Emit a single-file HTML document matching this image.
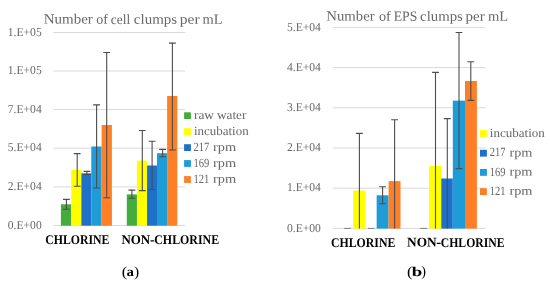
<!DOCTYPE html>
<html><head><meta charset="utf-8"><title>Figure</title>
<style>html,body{margin:0;padding:0;background:#fff}svg{display:block}text{font-family:"Liberation Serif",serif;text-rendering:geometricPrecision}</style></head><body>
<svg width="550" height="284" viewBox="0 0 550 284">
<rect width="550" height="284" fill="#fff"/>
<line x1="53.4" y1="32.5" x2="185.2" y2="32.5" stroke="#D9D9D9" stroke-width="1"/>
<line x1="53.4" y1="71.0" x2="185.2" y2="71.0" stroke="#D9D9D9" stroke-width="1"/>
<line x1="53.4" y1="109.6" x2="185.2" y2="109.6" stroke="#D9D9D9" stroke-width="1"/>
<line x1="53.4" y1="148.2" x2="185.2" y2="148.2" stroke="#D9D9D9" stroke-width="1"/>
<line x1="53.4" y1="186.9" x2="185.2" y2="186.9" stroke="#D9D9D9" stroke-width="1"/>
<line x1="53.4" y1="225.5" x2="185.2" y2="225.5" stroke="#D9D9D9" stroke-width="1"/>
<rect x="60.9" y="204.3" width="10.3" height="21.4" fill="#44AC3C"/>
<rect x="71.2" y="169.7" width="10.15" height="56.0" fill="#FFFF00"/>
<rect x="81.35" y="173.3" width="9.95" height="52.4" fill="#1F70C8"/>
<rect x="91.3" y="146.5" width="10.3" height="79.2" fill="#1E9CD8"/>
<rect x="101.6" y="125.0" width="10.3" height="100.7" fill="#FF7F27"/>
<rect x="126.8" y="194.4" width="10.15" height="31.3" fill="#44AC3C"/>
<rect x="136.95" y="160.6" width="10.1" height="65.1" fill="#FFFF00"/>
<rect x="147.05" y="165.5" width="9.95" height="60.2" fill="#1F70C8"/>
<rect x="157.0" y="153.2" width="10.1" height="72.5" fill="#1E9CD8"/>
<rect x="167.1" y="96.0" width="10.2" height="129.7" fill="#FF7F27"/>
<path d="M63.0 199.4H69.8M66.4 199.4V209.3M63.0 209.3H69.8" stroke="#4d4d4d" stroke-width="1.1" fill="none"/>
<path d="M73.8 153.6H80.6M77.2 153.6V186.2M73.8 186.2H80.6" stroke="#4d4d4d" stroke-width="1.1" fill="none"/>
<path d="M83.5 171.4H90.3M86.9 171.4V174.5M83.5 174.5H90.3" stroke="#4d4d4d" stroke-width="1.1" fill="none"/>
<path d="M93.2 104.9H100.0M96.6 104.9V188.0M93.2 188.0H100.0" stroke="#4d4d4d" stroke-width="1.1" fill="none"/>
<path d="M103.3 52.5H110.1M106.7 52.5V197.7M103.3 197.7H110.1" stroke="#4d4d4d" stroke-width="1.1" fill="none"/>
<path d="M128.5 190.1H135.3M131.9 190.1V198.2M128.5 198.2H135.3" stroke="#4d4d4d" stroke-width="1.1" fill="none"/>
<path d="M138.9 130.5H145.7M142.3 130.5V190.6M138.9 190.6H145.7" stroke="#4d4d4d" stroke-width="1.1" fill="none"/>
<path d="M148.7 141.2H155.5M152.1 141.2V189.5M148.7 189.5H155.5" stroke="#4d4d4d" stroke-width="1.1" fill="none"/>
<path d="M159.2 149.4H166.0M162.6 149.4V156.8M159.2 156.8H166.0" stroke="#4d4d4d" stroke-width="1.1" fill="none"/>
<path d="M169.0 43.1H175.8M172.4 43.1V150.0M169.0 150.0H175.8" stroke="#4d4d4d" stroke-width="1.1" fill="none"/>
<text transform="matrix(1,0.0005,0,1,7.8,35.8)" font-size="12" fill="#686868" textLength="33.9" lengthAdjust="spacingAndGlyphs">1.E+05</text>
<text transform="matrix(1,0.0005,0,1,7.8,74.2)" font-size="12" fill="#686868" textLength="33.9" lengthAdjust="spacingAndGlyphs">1.E+05</text>
<text transform="matrix(1,0.0005,0,1,7.8,112.8)" font-size="12" fill="#686868" textLength="33.9" lengthAdjust="spacingAndGlyphs">7.E+04</text>
<text transform="matrix(1,0.0005,0,1,7.8,151.4)" font-size="12" fill="#686868" textLength="33.9" lengthAdjust="spacingAndGlyphs">5.E+04</text>
<text transform="matrix(1,0.0005,0,1,7.8,190.2)" font-size="12" fill="#686868" textLength="33.9" lengthAdjust="spacingAndGlyphs">2.E+04</text>
<text transform="matrix(1,0.0005,0,1,7.8,228.8)" font-size="12" fill="#686868" textLength="33.9" lengthAdjust="spacingAndGlyphs">0.E+00</text>
<text transform="matrix(1,0.0005,0,1,43.67,23.6)" font-size="14" fill="#686868"><tspan x="0.0" textLength="49.16" lengthAdjust="spacingAndGlyphs">Number</tspan> <tspan x="52.55" textLength="11.7" lengthAdjust="spacingAndGlyphs">of</tspan> <tspan x="67.17" textLength="19.35" lengthAdjust="spacingAndGlyphs">cell</tspan> <tspan x="90.21" textLength="43.24" lengthAdjust="spacingAndGlyphs">clumps</tspan> <tspan x="136.15" textLength="19.92" lengthAdjust="spacingAndGlyphs">per</tspan> <tspan x="158.87" textLength="20.09" lengthAdjust="spacingAndGlyphs">mL</tspan></text>
<text transform="matrix(1,0.0005,0,1,45.17,244.0)" font-size="13.3" font-weight="bold" fill="#000" textLength="64.3" lengthAdjust="spacingAndGlyphs">CHLORINE</text>
<text transform="matrix(1,0.0005,0,1,121.43,244.0)" font-size="13.3" font-weight="bold" fill="#000"><tspan x="0.0" textLength="28.79" lengthAdjust="spacingAndGlyphs">NON</tspan><tspan x="28.63" textLength="4.72" lengthAdjust="spacingAndGlyphs">-</tspan><tspan x="32.84" textLength="64.88" lengthAdjust="spacingAndGlyphs">CHLORINE</tspan></text>
<rect x="184.1" y="112.3" width="6.8" height="6.8" fill="#44AC3C"/>
<text transform="matrix(1,0.0005,0,1,193.96,119.0)" font-size="12.5" fill="#686868"><tspan x="0.0" textLength="20.0" lengthAdjust="spacingAndGlyphs">raw</tspan> <tspan x="22.99" textLength="29.43" lengthAdjust="spacingAndGlyphs">water</tspan></text>
<rect x="184.1" y="128.2" width="6.8" height="6.8" fill="#FFFF00"/>
<text transform="matrix(1,0.0005,0,1,193.94,135.0)" font-size="12.5" fill="#686868" textLength="54.75" lengthAdjust="spacingAndGlyphs">incubation</text>
<rect x="184.1" y="144.2" width="6.8" height="6.8" fill="#1F70C8"/>
<text transform="matrix(1,0.0005,0,1,193.43,150.9)" font-size="12.5" fill="#686868"><tspan x="0.0" textLength="15.88" lengthAdjust="spacingAndGlyphs">217</tspan> <tspan x="19.62" textLength="23.26" lengthAdjust="spacingAndGlyphs">rpm</tspan></text>
<rect x="184.1" y="160.1" width="6.8" height="6.8" fill="#1E9CD8"/>
<text transform="matrix(1,0.0005,0,1,193.43,166.9)" font-size="12.5" fill="#686868"><tspan x="0.0" textLength="15.88" lengthAdjust="spacingAndGlyphs">169</tspan> <tspan x="19.62" textLength="23.26" lengthAdjust="spacingAndGlyphs">rpm</tspan></text>
<rect x="184.1" y="176.1" width="6.8" height="6.8" fill="#FF7F27"/>
<text transform="matrix(1,0.0005,0,1,193.43,182.8)" font-size="12.5" fill="#686868"><tspan x="0.0" textLength="15.88" lengthAdjust="spacingAndGlyphs">121</tspan> <tspan x="19.62" textLength="23.26" lengthAdjust="spacingAndGlyphs">rpm</tspan></text>
<text transform="matrix(1,0.0005,0,1,121.65,276.4)" font-size="14.6" fill="#000"><tspan x="0.0" textLength="5.6" lengthAdjust="spacingAndGlyphs" y="0">(</tspan><tspan x="4.84" textLength="7.41" lengthAdjust="spacingAndGlyphs" y="-0.3" font-size="13.4" font-weight="bold">a</tspan><tspan x="12.31" textLength="5.16" lengthAdjust="spacingAndGlyphs" y="0">)</tspan></text>
<line x1="333.0" y1="27.4" x2="485.3" y2="27.4" stroke="#D9D9D9" stroke-width="1"/>
<line x1="333.0" y1="67.6" x2="485.3" y2="67.6" stroke="#D9D9D9" stroke-width="1"/>
<line x1="333.0" y1="107.8" x2="485.3" y2="107.8" stroke="#D9D9D9" stroke-width="1"/>
<line x1="333.0" y1="148.0" x2="485.3" y2="148.0" stroke="#D9D9D9" stroke-width="1"/>
<line x1="333.0" y1="188.2" x2="485.3" y2="188.2" stroke="#D9D9D9" stroke-width="1"/>
<line x1="333.0" y1="228.4" x2="485.3" y2="228.4" stroke="#D9D9D9" stroke-width="1"/>
<rect x="353.1" y="190.6" width="12.2" height="38.0" fill="#FFFF00"/>
<rect x="376.65" y="195.3" width="11.95" height="33.3" fill="#1E9CD8"/>
<rect x="388.6" y="181.1" width="11.9" height="47.5" fill="#FF7F27"/>
<rect x="429.1" y="166.0" width="12.2" height="62.6" fill="#FFFF00"/>
<rect x="441.3" y="178.5" width="11.5" height="50.1" fill="#1F70C8"/>
<rect x="452.8" y="100.6" width="12.2" height="128.0" fill="#1E9CD8"/>
<rect x="465.0" y="81.0" width="11.9" height="147.6" fill="#FF7F27"/>
<line x1="344.1" y1="228.4" x2="350.9" y2="228.4" stroke="#6a6a70" stroke-width="0.8"/>
<line x1="367.8" y1="228.4" x2="374.6" y2="228.4" stroke="#6a6a70" stroke-width="0.8"/>
<line x1="420.2" y1="228.4" x2="427.0" y2="228.4" stroke="#6a6a70" stroke-width="0.8"/>
<path d="M356.0 133.4H362.8M359.4 133.4V228.4" stroke="#4d4d4d" stroke-width="1.1" fill="none"/>
<path d="M379.2 186.8H386.0M382.6 186.8V203.7M379.2 203.7H386.0" stroke="#4d4d4d" stroke-width="1.1" fill="none"/>
<path d="M391.2 119.7H398.0M394.6 119.7V228.4" stroke="#4d4d4d" stroke-width="1.1" fill="none"/>
<path d="M432.1 72.4H438.9M435.5 72.4V228.4" stroke="#4d4d4d" stroke-width="1.1" fill="none"/>
<path d="M443.9 118.6H450.7M447.3 118.6V228.4" stroke="#4d4d4d" stroke-width="1.1" fill="none"/>
<path d="M455.6 32.5H462.4M459.0 32.5V168.6M455.6 168.6H462.4" stroke="#4d4d4d" stroke-width="1.1" fill="none"/>
<path d="M467.4 61.8H474.2M470.8 61.8V100.4M467.4 100.4H474.2" stroke="#4d4d4d" stroke-width="1.1" fill="none"/>
<text transform="matrix(1,0.0005,0,1,286.9,30.6)" font-size="12" fill="#686868" textLength="34.05" lengthAdjust="spacingAndGlyphs">5.E+04</text>
<text transform="matrix(1,0.0005,0,1,286.9,70.8)" font-size="12" fill="#686868" textLength="34.05" lengthAdjust="spacingAndGlyphs">4.E+04</text>
<text transform="matrix(1,0.0005,0,1,286.9,111.0)" font-size="12" fill="#686868" textLength="34.05" lengthAdjust="spacingAndGlyphs">3.E+04</text>
<text transform="matrix(1,0.0005,0,1,286.9,151.2)" font-size="12" fill="#686868" textLength="34.05" lengthAdjust="spacingAndGlyphs">2.E+04</text>
<text transform="matrix(1,0.0005,0,1,286.9,191.4)" font-size="12" fill="#686868" textLength="34.05" lengthAdjust="spacingAndGlyphs">1.E+04</text>
<text transform="matrix(1,0.0005,0,1,286.9,231.7)" font-size="12" fill="#686868" textLength="34.05" lengthAdjust="spacingAndGlyphs">0.E+00</text>
<text transform="matrix(1,0.0005,0,1,326.27,20.6)" font-size="14" fill="#686868"><tspan x="0.0" textLength="48.35" lengthAdjust="spacingAndGlyphs">Number</tspan> <tspan x="52.64" textLength="11.88" lengthAdjust="spacingAndGlyphs">of</tspan> <tspan x="67.41" textLength="23.66" lengthAdjust="spacingAndGlyphs">EPS</tspan> <tspan x="93.82" textLength="42.72" lengthAdjust="spacingAndGlyphs">clumps</tspan> <tspan x="139.26" textLength="19.22" lengthAdjust="spacingAndGlyphs">per</tspan> <tspan x="161.67" textLength="20.24" lengthAdjust="spacingAndGlyphs">mL</tspan></text>
<text transform="matrix(1,0.0005,0,1,330.88,246.6)" font-size="13.3" font-weight="bold" fill="#000" textLength="64.5" lengthAdjust="spacingAndGlyphs">CHLORINE</text>
<text transform="matrix(1,0.0005,0,1,407.03,246.6)" font-size="13.3" font-weight="bold" fill="#000"><tspan x="0.0" textLength="29.64" lengthAdjust="spacingAndGlyphs">NON</tspan><tspan x="29.12" textLength="4.89" lengthAdjust="spacingAndGlyphs">-</tspan><tspan x="33.75" textLength="63.86" lengthAdjust="spacingAndGlyphs">CHLORINE</tspan></text>
<rect x="480" y="130.1" width="6.9" height="6.8" fill="#FFFF00"/>
<text transform="matrix(1,0.0005,0,1,489.84,136.9)" font-size="12.5" fill="#686868" textLength="55.04" lengthAdjust="spacingAndGlyphs">incubation</text>
<rect x="480" y="149.8" width="6.9" height="6.8" fill="#1F70C8"/>
<text transform="matrix(1,0.0005,0,1,489.83,156.4)" font-size="12.5" fill="#686868"><tspan x="0.0" textLength="15.79" lengthAdjust="spacingAndGlyphs">217</tspan> <tspan x="19.62" textLength="23.05" lengthAdjust="spacingAndGlyphs">rpm</tspan></text>
<rect x="480" y="169.0" width="6.9" height="6.8" fill="#1E9CD8"/>
<text transform="matrix(1,0.0005,0,1,489.83,175.6)" font-size="12.5" fill="#686868"><tspan x="0.0" textLength="15.79" lengthAdjust="spacingAndGlyphs">169</tspan> <tspan x="19.62" textLength="23.05" lengthAdjust="spacingAndGlyphs">rpm</tspan></text>
<rect x="480" y="188.2" width="6.9" height="6.8" fill="#FF7F27"/>
<text transform="matrix(1,0.0005,0,1,489.83,194.8)" font-size="12.5" fill="#686868"><tspan x="0.0" textLength="15.79" lengthAdjust="spacingAndGlyphs">121</tspan> <tspan x="19.62" textLength="23.05" lengthAdjust="spacingAndGlyphs">rpm</tspan></text>
<text transform="matrix(1,0.0005,0,1,407.05,276.4)" font-size="14.6" fill="#000"><tspan x="0.0" textLength="5.6" lengthAdjust="spacingAndGlyphs" y="0">(</tspan><tspan x="4.84" textLength="10.46" lengthAdjust="spacingAndGlyphs" y="-0.3" font-size="13.4" font-weight="bold">b</tspan><tspan x="14.24" textLength="4.74" lengthAdjust="spacingAndGlyphs" y="0">)</tspan></text>
</svg></body></html>
